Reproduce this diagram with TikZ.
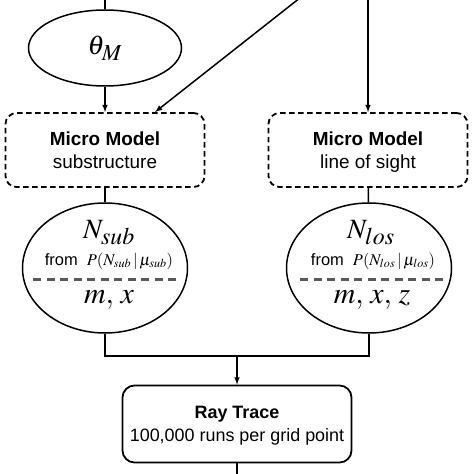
\documentclass[tikz,border=0pt]{standalone}
\usepackage{mathptmx}
\usepackage{fontspec}
\setsansfont{Liberation Sans}
\usetikzlibrary{arrows,shapes.geometric}
\DeclareMathSizes{27}{27}{23}{17}
\DeclareMathSizes{28}{28}{24}{17}
\DeclareMathSizes{30}{30}{25}{18}
\DeclareMathSizes{18}{18}{15}{11}

\tikzset{
  model/.style={draw, line width=1.8bp, dash pattern=on 5.5bp off 3.5bp, rounded corners=11bp,
    minimum width=199bp, minimum height=74bp, align=center, text depth=0pt,
    font=\sffamily\fontsize{19}{23}\selectfont},
  sample/.style={draw, ellipse, line width=1.5bp, inner sep=0pt},
  big/.style={inner sep=0pt, anchor=base, font=\fontsize{28}{28}\selectfont},
  bigger/.style={inner sep=0pt, anchor=base, font=\fontsize{30}{30}\selectfont},
  small/.style={inner sep=0pt, anchor=base, font=\sffamily\fontsize{16.5}{17}\selectfont},
  split/.style={line width=3bp, dash pattern=on 8bp off 5.5bp, draw=black!65},
  link/.style={line width=1.5bp},
}

\begin{document}
\begin{tikzpicture}[x=1bp, y=-1bp]
        \clip (0,0) rectangle (474,474);
        \coordinate (inA) at (105,-10);
        \coordinate (inB) at (310,-10);
        \coordinate (inC) at (368,-10);
        \node[sample, minimum width=153bp, minimum height=76bp, font=\fontsize{27}{27}\selectfont] (theta) at (105,48) {$\theta_M$};
        \node[model] (micsub) at (105,150) {\textbf{Micro Model}\\substructure};
        \node[model] (miclos) at (368,150) {\textbf{Micro Model}\\line of sight};
        \node[sample, minimum width=165bp, minimum height=130bp] (nsub) at (105,268) {};
        \node[sample, minimum width=165bp, minimum height=130bp] (nlos) at (369,268) {};
        \node[big] (nsubA) at (109,238) {$N_{sub}$};
        \node[small] (nsubB) at (109,265) {from \ $\fontsize{18}{18}\selectfont P(N_{sub}\,|\,\mu_{sub})$};
        \node[bigger] (nsubC) at (109,303) {$m,\,x$};
        \node[big] (nlosA) at (371,238) {$N_{los}$};
        \node[small] (nlosB) at (373,265) {from \ $\fontsize{18}{18}\selectfont P(N_{los}\,|\,\mu_{los})$};
        \node[bigger] (nlosC) at (372,303) {$m,\,x,\,z$};
        \draw[split] (33,279) -- (178,279);
        \draw[split] (300,279) -- (447,279);
        \node[draw, line width=1.8bp, rounded corners=12bp, minimum width=229bp, minimum height=77bp,
          align=center, text depth=0pt, font=\sffamily\fontsize{18}{23}\selectfont] (ray) at (237,424)
          {\textbf{Ray Trace}\\100,000 runs per grid point};
        \coordinate (join) at (237,356);
        \coordinate (out) at (237,484);
        \draw[link] (inA) -- (theta);
        \draw[link, -latex] (theta) -- (micsub);
        \draw[link, -latex] (inB) -- ([xshift=50bp]micsub.north);
        \draw[link, -latex] (inC) -- (miclos);
        \draw[link] (micsub) -- (nsub);
        \draw[link] (miclos) -- (nlos);
        \draw[link] (nsub.south) |- (join);
        \draw[link] (nlos.south) |- (join);
        \draw[link, -latex] (join) -- (ray);
        \draw[link] (ray) -- (out);
      \end{tikzpicture}
\end{document}
